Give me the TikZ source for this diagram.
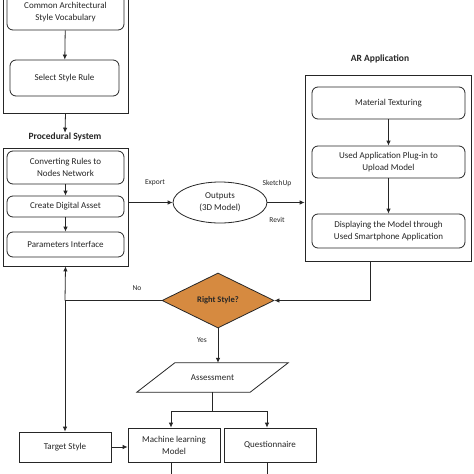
\documentclass[tikz,border=0pt]{standalone}
\usepackage{fontspec}
\setmainfont{Carlito}
\usetikzlibrary{shapes.geometric,arrows.meta}
\definecolor{ln}{HTML}{262626}
\definecolor{dia}{HTML}{D68A40}
\begin{document}
\begin{tikzpicture}[x=1pt,y=-1pt,
  every node/.style={text=black!85, font=\fontsize{9}{12}\selectfont, align=center, inner sep=0pt},
  rbox/.style={draw=ln, line width=0.8pt, rounded corners=6pt},
  sbox/.style={draw=ln, line width=0.8pt},
  outer/.style={draw=ln, line width=0.8pt},
  hdr/.style={font=\fontsize{9.5}{11}\selectfont\bfseries},
  lbl/.style={font=\fontsize{7.5}{9}\selectfont},
  conn/.style={draw=ln, line width=0.8pt},
  arr/.style={conn, -{Latex[length=5pt,width=4.5pt]}},
]
\useasboundingbox (0,0) rectangle (474,474);
\fill[white] (0,0) rectangle (474,474);

% top group
\node[outer, minimum width=125pt, minimum height=125pt] (topouter) at (65.5,50.5) {};
\node[rbox, minimum width=117pt, minimum height=36pt] (vocab) at (65.5,12) {Common Architectural\\Style Vocabulary};
\node[rbox, minimum width=109pt, minimum height=36pt] (select) at (64.5,78) {Select Style Rule};

% procedural system
\node[hdr] (prochdr) at (65,137) {Procedural System};
\node[outer, minimum width=125pt, minimum height=118pt] (procbox) at (65.5,207) {};
\node[rbox, minimum width=117pt, minimum height=33pt] (convert) at (65.5,167.5) {Converting Rules to\\Nodes Network};
\node[rbox, minimum width=117pt, minimum height=21pt] (create) at (65.5,206.5) {Create Digital Asset};
\node[rbox, minimum width=117pt, minimum height=25pt] (params) at (65.5,244.5) {Parameters Interface};

% outputs
\node[ellipse, draw=ln, line width=0.8pt, minimum width=94pt, minimum height=41pt] (outputs) at (220,202.5) {Outputs\\(3D Model)};
\node[lbl] (export) at (155,183) {Export};
\node[lbl] (sketchup) at (277,183) {SketchUp};
\node[lbl] (revit) at (277,220) {Revit};

% AR application
\node[hdr] (arhdr) at (380,59) {AR Application};
\node[outer, minimum width=166pt, minimum height=186pt] (arbox) at (388,168) {};
\node[rbox, minimum width=153pt, minimum height=32pt] (material) at (388.5,103) {Material Texturing};
\node[rbox, minimum width=153pt, minimum height=32pt] (plugin) at (388.5,162) {Used Application Plug-in to\\Upload Model};
\node[rbox, minimum width=153pt, minimum height=34pt] (display) at (388.5,231) {Displaying the Model through\\Used Smartphone Application};

% decision
\node[diamond, aspect=2.04, draw=ln, line width=0.8pt, fill=dia, minimum width=112pt, minimum height=55pt, font=\fontsize{8.5}{10}\selectfont\bfseries] (decide) at (218,300.5) {Right Style?};
\node[lbl] (no) at (137,288) {No};
\node[lbl] (yes) at (202,340) {Yes};

% assessment
\node[minimum width=151pt, minimum height=29pt] (assess) at (212.5,377.5) {Assessment};
\draw[conn] (assess.south west) -- ([xshift=38pt]assess.north west) -- (assess.north east) -- ([xshift=-38pt]assess.south east) -- cycle;

% bottom row
\node[sbox, minimum width=92pt, minimum height=30pt] (target) at (65,447) {Target Style};
\node[sbox, minimum width=92pt, minimum height=34pt] (ml) at (174,445) {Machine learning\\Model};
\node[sbox, minimum width=92pt, minimum height=34pt] (quest) at (270,445) {Questionnaire};

% connectors
\draw[arr] (vocab) -- (select);
\draw[arr] (topouter.south) -- (prochdr.north);
\draw[arr] (convert) -- (create);
\draw[arr] (create) -- (params);
\draw[arr] (outputs.west -| procbox.east) -- (outputs.west);
\draw[arr] (outputs.east) -- (outputs.east -| arbox.west);
\draw[arr] (material) -- (plugin);
\draw[arr] (plugin) -- (display);
\coordinate (arout) at ([xshift=-18pt]arbox.south);
\draw[arr] (arout) |- (decide.east);
\coordinate (junc) at (65,300.5);
\draw[conn] (decide.west) -- (junc);
\draw[arr] (junc) -- (procbox.south);
\draw[arr] (junc) -- (target.north);
\draw[arr] (decide.south) -- (decide.south |- assess.north);
\coordinate (split) at ([yshift=-19pt]assess.south);
\draw[conn] (assess.south) -- (split);
\draw[arr] (split) -| ([xshift=-3pt]ml.north);
\draw[arr] (split) -| ([xshift=-3pt]quest.north);
\draw[arr] (target.east) -- (target.east -| ml.west);
\coordinate (mlend) at ([xshift=-3pt]ml.south |- 0,480);
\coordinate (qend) at ([xshift=-3pt]quest.south |- 0,480);
\draw[conn] ([xshift=-3pt]ml.south) -- (mlend);
\draw[conn] ([xshift=-3pt]quest.south) -- (qend);
\end{tikzpicture}
\end{document}
